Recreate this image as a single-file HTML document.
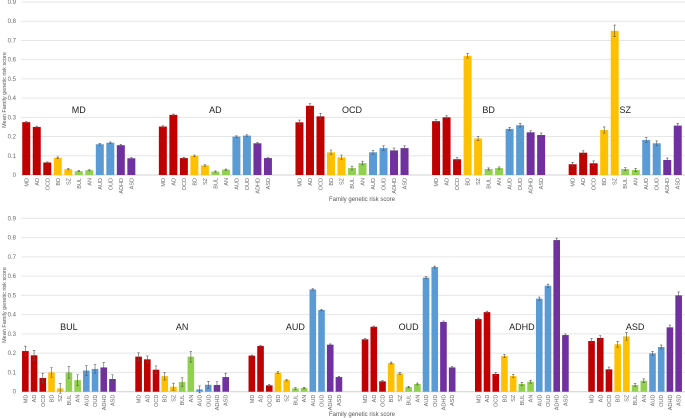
<!DOCTYPE html>
<html><head><meta charset="utf-8"><style>
html,body{margin:0;padding:0;background:#fff;}
svg{display:block;font-family:"Liberation Sans",sans-serif;}
</style></head><body>
<svg id="chart" width="685" height="418" viewBox="0 0 685 418"></svg>
<script>
const barLabels = ["MD","AD","OCD","BD","SZ","BUL","AN","AUD","OUD","ADHD","ASD"];
const topGroups = ["MD","AD","OCD","BD","SZ"];
const bottomGroups = ["BUL","AN","AUD","OUD","ADHD","ASD"];
const topValues = [
 [.275,.25,.065,.09,.03,.02,.025,.16,.168,.155,.087],
 [.252,.313,.088,.10,.05,.018,.028,.20,.205,.165,.088],
 [.274,.36,.305,.118,.092,.036,.062,.118,.14,.128,.14],
 [.28,.30,.082,.62,.19,.031,.036,.24,.259,.222,.208],
 [.056,.116,.061,.234,.75,.031,.026,.182,.165,.078,.257]
];
const topErrors = [
 [.004,.004,.003,.004,.003,.003,.003,.004,.004,.004,.003],
 [.004,.004,.004,.004,.004,.003,.003,.004,.004,.004,.003],
 [.012,.012,.016,.012,.012,.01,.01,.01,.012,.012,.012],
 [.008,.008,.008,.012,.01,.006,.006,.008,.01,.008,.01],
 [.01,.01,.012,.016,.03,.008,.008,.012,.012,.01,.012]
];
const bottomValues = [
 [.211,.189,.071,.10,.017,.10,.06,.11,.118,.126,.066],
 [.182,.168,.114,.081,.026,.05,.182,.012,.036,.035,.076],
 [.187,.237,.033,.099,.06,.017,.019,.531,.424,.244,.076],
 [.272,.337,.054,.149,.095,.024,.04,.592,.647,.362,.126],
 [.377,.413,.092,.185,.081,.04,.052,.483,.55,.787,.294],
 [.263,.279,.116,.246,.287,.035,.057,.199,.232,.334,.5]
];
const bottomErrors = [
 [.025,.025,.025,.025,.025,.03,.028,.025,.022,.025,.022],
 [.02,.018,.02,.02,.018,.022,.028,.018,.018,.018,.02],
 [.003,.003,.004,.005,.004,.004,.004,.004,.004,.004,.004],
 [.004,.004,.004,.005,.005,.004,.005,.005,.005,.005,.004],
 [.005,.005,.008,.008,.008,.008,.008,.008,.008,.01,.006],
 [.012,.012,.012,.015,.02,.008,.01,.01,.01,.012,.018]
];
const yTicks = ["0","0.1","0.2","0.3","0.4","0.5","0.6","0.7","0.8","0.9"];
const colors = ["#C00000","#C00000","#C00000","#FFC000","#FFC000","#92D050","#92D050","#5B9BD5","#5B9BD5","#7030A0","#7030A0"];

const svg = document.getElementById('chart');
const NS = "http://www.w3.org/2000/svg";
function mk(tag, attrs, parent, text){
  const e=document.createElementNS(NS,tag);
  for(const k in attrs) e.setAttribute(k,attrs[k]);
  if(text!==undefined) e.textContent=text;
  (parent||svg).appendChild(e); return e;
}
function panel(name, groups, values, errors, y0, yTop, titleY, axisTitleY, yTitleY){
  const g=mk('g',{});
  
  
  const left=21, right=683;
  const yScale=v=>y0-(y0-yTop)*v/0.9;
  yTicks.forEach((t,i)=>{
    const y=yScale(parseFloat(t));
    const l=mk('line',{x1:left,x2:685,y1:y,y2:y,stroke:i===0?'#d0d0d0':'#e6e6e6','stroke-width':1},g);
    
    
    const tx=mk('text',{x:16,y:y+2,'font-size':6,fill:'#666','text-anchor':'end'},g,t);
    
    
  });
  const nSlots=groups.length*11+(groups.length-1)*2;
  const slot=(right-left)/nSlots;
  const bw=slot*0.76;
  groups.forEach((gn,gi)=>{
    const base=gi*13;
    values[gi].forEach((v,bi)=>{
      const cx=left+(base+bi+0.5)*slot;
      const y=yScale(v);
      const r=mk('rect',{x:cx-bw/2,y:y,width:bw,height:y0-y,fill:colors[bi]},g);
      
      
      const e=errors[gi][bi];
      const ya=yScale(v+e), yb=yScale(v-e);
      const eb=mk('path',{d:`M${cx},${ya}V${yb}M${cx-1.2},${ya}H${cx+1.2}M${cx-1.2},${yb}H${cx+1.2}`,stroke:'#555','stroke-width':0.6,fill:'none'},g);
      
      
      const lt=mk('text',{x:0,y:0,'font-size':5.5,fill:'#666','text-anchor':'end',transform:`translate(${cx+2},${y0+3}) rotate(-90)`},g,barLabels[bi]);
      
      
    });
    const gc=left+(base+5.5)*slot;
    const tt=mk('text',{x:gc,y:titleY,'font-size':9,fill:'#222','text-anchor':'middle'},g,gn);
    
    
  });
  const at=mk('text',{x:362,y:axisTitleY,'font-size':6,fill:'#555','text-anchor':'middle'},g,'Family genetic risk score');
  
  
  const yt=mk('text',{x:0,y:0,'font-size':5.5,fill:'#555','text-anchor':'middle',transform:`translate(6,${yTitleY}) rotate(-90)`},g,'Mean Family genetic risk score');
  
  
}
panel('top', topGroups, topValues, topErrors, 175, 2, 113, 201, 90);
panel('bottom', bottomGroups, bottomValues, bottomErrors, 391.7, 218.3, 330, 416, 305);
</script>
</body></html>
